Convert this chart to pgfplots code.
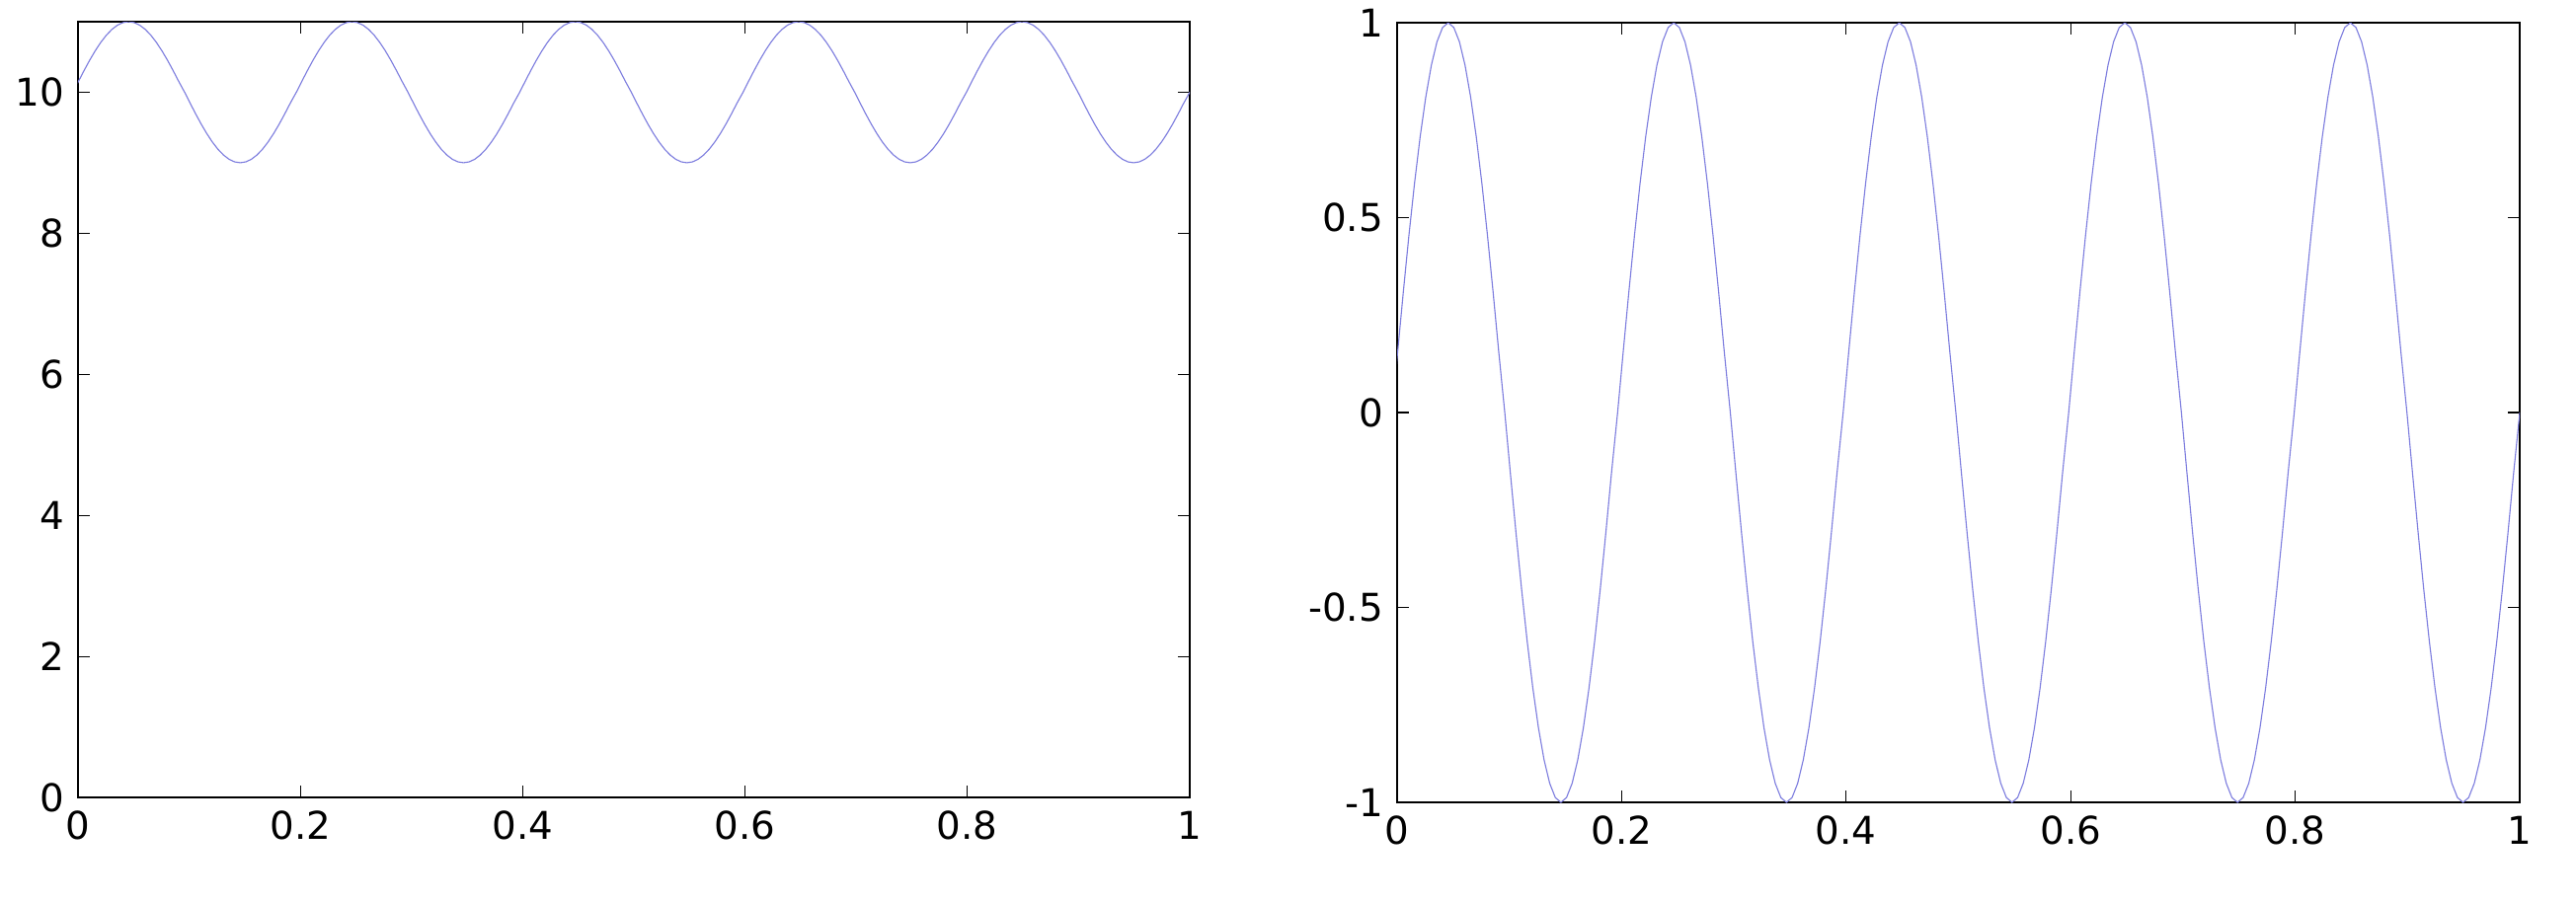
\documentclass[border=0pt]{standalone}
\usepackage{fontspec}
\setmainfont{DejaVu Sans}
\usepackage{pgfplots}
\usepackage{pgfplotstable}
\pgfplotsset{compat=1.18}
\definecolor{linec}{RGB}{125,125,222}
\pgfplotstableread{
x a b
-0.0045 10 0
0.0005 10.1564 0.1564
0.0055 10.3090 0.3090
0.0105 10.4540 0.4540
0.0155 10.5878 0.5878
0.0205 10.7071 0.7071
0.0255 10.8090 0.8090
0.0305 10.8910 0.8910
0.0355 10.9511 0.9511
0.0405 10.9877 0.9877
0.0455 11 1
0.0505 10.9877 0.9877
0.0555 10.9511 0.9511
0.0605 10.8910 0.8910
0.0655 10.8090 0.8090
0.0705 10.7071 0.7071
0.0755 10.5878 0.5878
0.0805 10.4540 0.4540
0.0855 10.3090 0.3090
0.0905 10.1564 0.1564
0.0959 10 0
0.1009 9.8436 -0.1564
0.1059 9.6910 -0.3090
0.1109 9.5460 -0.4540
0.1159 9.4122 -0.5878
0.1209 9.2929 -0.7071
0.1259 9.1910 -0.8090
0.1309 9.1090 -0.8910
0.1359 9.0489 -0.9511
0.1409 9.0123 -0.9877
0.1459 9 -1
0.1509 9.0123 -0.9877
0.1559 9.0489 -0.9511
0.1609 9.1090 -0.8910
0.1659 9.1910 -0.8090
0.1709 9.2929 -0.7071
0.1759 9.4122 -0.5878
0.1809 9.5460 -0.4540
0.1859 9.6910 -0.3090
0.1909 9.8436 -0.1564
0.1964 10 0
0.2014 10.1564 0.1564
0.2064 10.3090 0.3090
0.2114 10.4540 0.4540
0.2164 10.5878 0.5878
0.2214 10.7071 0.7071
0.2264 10.8090 0.8090
0.2314 10.8910 0.8910
0.2364 10.9511 0.9511
0.2414 10.9877 0.9877
0.2464 11 1
0.2514 10.9877 0.9877
0.2564 10.9511 0.9511
0.2614 10.8910 0.8910
0.2664 10.8090 0.8090
0.2714 10.7071 0.7071
0.2764 10.5878 0.5878
0.2814 10.4540 0.4540
0.2864 10.3090 0.3090
0.2914 10.1564 0.1564
0.2968 10 0
0.3018 9.8436 -0.1564
0.3068 9.6910 -0.3090
0.3118 9.5460 -0.4540
0.3168 9.4122 -0.5878
0.3218 9.2929 -0.7071
0.3268 9.1910 -0.8090
0.3318 9.1090 -0.8910
0.3368 9.0489 -0.9511
0.3418 9.0123 -0.9877
0.3468 9 -1
0.3518 9.0123 -0.9877
0.3568 9.0489 -0.9511
0.3618 9.1090 -0.8910
0.3668 9.1910 -0.8090
0.3718 9.2929 -0.7071
0.3768 9.4122 -0.5878
0.3818 9.5460 -0.4540
0.3868 9.6910 -0.3090
0.3918 9.8436 -0.1564
0.3973 10 0
0.4023 10.1564 0.1564
0.4073 10.3090 0.3090
0.4123 10.4540 0.4540
0.4173 10.5878 0.5878
0.4223 10.7071 0.7071
0.4273 10.8090 0.8090
0.4323 10.8910 0.8910
0.4373 10.9511 0.9511
0.4423 10.9877 0.9877
0.4473 11 1
0.4523 10.9877 0.9877
0.4573 10.9511 0.9511
0.4623 10.8910 0.8910
0.4673 10.8090 0.8090
0.4723 10.7071 0.7071
0.4773 10.5878 0.5878
0.4823 10.4540 0.4540
0.4873 10.3090 0.3090
0.4923 10.1564 0.1564
0.4977 10 0
0.5027 9.8436 -0.1564
0.5077 9.6910 -0.3090
0.5127 9.5460 -0.4540
0.5177 9.4122 -0.5878
0.5227 9.2929 -0.7071
0.5277 9.1910 -0.8090
0.5327 9.1090 -0.8910
0.5377 9.0489 -0.9511
0.5427 9.0123 -0.9877
0.5477 9 -1
0.5527 9.0123 -0.9877
0.5577 9.0489 -0.9511
0.5627 9.1090 -0.8910
0.5677 9.1910 -0.8090
0.5727 9.2929 -0.7071
0.5777 9.4122 -0.5878
0.5827 9.5460 -0.4540
0.5877 9.6910 -0.3090
0.5927 9.8436 -0.1564
0.5982 10 0
0.6032 10.1564 0.1564
0.6082 10.3090 0.3090
0.6132 10.4540 0.4540
0.6182 10.5878 0.5878
0.6232 10.7071 0.7071
0.6282 10.8090 0.8090
0.6332 10.8910 0.8910
0.6382 10.9511 0.9511
0.6432 10.9877 0.9877
0.6482 11 1
0.6532 10.9877 0.9877
0.6582 10.9511 0.9511
0.6632 10.8910 0.8910
0.6682 10.8090 0.8090
0.6732 10.7071 0.7071
0.6782 10.5878 0.5878
0.6832 10.4540 0.4540
0.6882 10.3090 0.3090
0.6932 10.1564 0.1564
0.6986 10 0
0.7036 9.8436 -0.1564
0.7086 9.6910 -0.3090
0.7136 9.5460 -0.4540
0.7186 9.4122 -0.5878
0.7236 9.2929 -0.7071
0.7286 9.1910 -0.8090
0.7336 9.1090 -0.8910
0.7386 9.0489 -0.9511
0.7436 9.0123 -0.9877
0.7486 9 -1
0.7536 9.0123 -0.9877
0.7586 9.0489 -0.9511
0.7636 9.1090 -0.8910
0.7686 9.1910 -0.8090
0.7736 9.2929 -0.7071
0.7786 9.4122 -0.5878
0.7836 9.5460 -0.4540
0.7886 9.6910 -0.3090
0.7936 9.8436 -0.1564
0.7991 10 0
0.8041 10.1564 0.1564
0.8091 10.3090 0.3090
0.8141 10.4540 0.4540
0.8191 10.5878 0.5878
0.8241 10.7071 0.7071
0.8291 10.8090 0.8090
0.8341 10.8910 0.8910
0.8391 10.9511 0.9511
0.8441 10.9877 0.9877
0.8491 11 1
0.8541 10.9877 0.9877
0.8591 10.9511 0.9511
0.8641 10.8910 0.8910
0.8691 10.8090 0.8090
0.8741 10.7071 0.7071
0.8791 10.5878 0.5878
0.8841 10.4540 0.4540
0.8891 10.3090 0.3090
0.8941 10.1564 0.1564
0.8995 10 0
0.9045 9.8436 -0.1564
0.9095 9.6910 -0.3090
0.9145 9.5460 -0.4540
0.9195 9.4122 -0.5878
0.9245 9.2929 -0.7071
0.9295 9.1910 -0.8090
0.9345 9.1090 -0.8910
0.9395 9.0489 -0.9511
0.9445 9.0123 -0.9877
0.9495 9 -1
0.9545 9.0123 -0.9877
0.9595 9.0489 -0.9511
0.9645 9.1090 -0.8910
0.9695 9.1910 -0.8090
0.9745 9.2929 -0.7071
0.9795 9.4122 -0.5878
0.9845 9.5460 -0.4540
0.9895 9.6910 -0.3090
0.9945 9.8436 -0.1564
1 10 0
}\wave

\begin{document}
\begin{tikzpicture}
\useasboundingbox (0,0) rectangle (652.25pt,228.5pt);
\pgfplotsset{
  common/.style={
    anchor=south west, scale only axis,
    xmin=0, xmax=1,
    xtick={0,0.2,0.4,0.6,0.8,1},
    tick align=inside,
    major tick length=3pt,
    tick style={black, line width=0.3pt},
    axis line style={black, line width=0.35pt},
    /pgf/number format/assume math mode=true,
    tick label style={font=\fontsize{9.7}{11.6}\selectfont},
  }
}
\begin{axis}[common,
  at={(19.75pt,26.5pt)},
  width=281.5pt, height=196.5pt,
  ymin=0, ymax=11,
  ytick={0,2,4,6,8,10},
]
\addplot[color=linec, line width=0.28pt, no markers] table[x=x, y=a] {\wave};
\end{axis}
\begin{axis}[common,
  at={(353.75pt,25.25pt)},
  width=284.25pt, height=197.5pt,
  ymin=-1, ymax=1,
  ytick={-1,-0.5,0,0.5,1},
]
\addplot[color=linec, line width=0.28pt, no markers] table[x=x, y=b] {\wave};
\end{axis}
\end{tikzpicture}
\end{document}
